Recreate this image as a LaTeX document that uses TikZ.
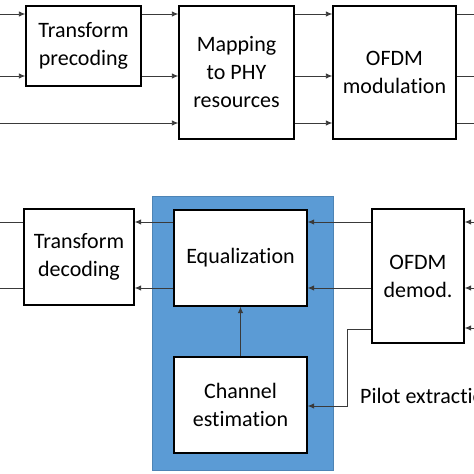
\documentclass[tikz,border=0pt]{standalone}
\usepackage{fontspec}
\setmainfont[Ligatures=CommonOff]{Carlito}
\usetikzlibrary{arrows.meta}
\definecolor{lineg}{HTML}{3A3A3A}
\definecolor{panelblue}{HTML}{5B9BD5}
\tikzset{
  txt/.style={font=\fontsize{22}{28}\selectfont},
  blk/.style={draw=black, line width=1.4pt, fill=white, align=center, inner sep=0pt, txt},
  conn/.style={draw=lineg, line width=0.9pt},
  arr/.style={conn, -{Latex[length=6.5pt,width=5.5pt]}},
}
\begin{document}
\begin{tikzpicture}[x=1pt,y=-1pt]
\useasboundingbox (0,0) rectangle (474,474);
\clip (0,0) rectangle (474,474);
\fill[white] (0,0) rectangle (474,474);
% blue panel
\node[draw=panelblue!85!black, fill=panelblue, line width=0.6pt, minimum width=181pt, minimum height=274pt, inner sep=0pt] (panel) at (242.5,333) {};
% top row
\node[blk, minimum width=115pt, minimum height=80pt] (tp) at (83.5,46) {Transform\\precoding};
\node[blk, minimum width=115pt, minimum height=133pt] (map) at (236.5,72.5) {Mapping\\to PHY\\resources};
\node[blk, minimum width=123pt, minimum height=133pt] (ofdm) at (394.5,72.5) {OFDM\\modulation};
% bottom row
\node[blk, minimum width=110pt, minimum height=96pt] (td) at (79,257) {Transform\\decoding};
\node[blk, minimum width=133pt, minimum height=96pt] (eq) at (240.5,258) {Equalization};
\node[blk, minimum width=92pt, minimum height=134pt] (od) at (418,276) {OFDM\\demod.};
\node[blk, minimum width=133pt, minimum height=96pt] (ce) at (240.5,405) {Channel\\estimation};
\node[anchor=base west, inner sep=0pt, txt] (pl) at (360,403) {Pilot extraction};
% free ends
\coordinate (l1) at (0,14); \coordinate (l2) at (0,76); \coordinate (l3) at (0,123);
\coordinate (r1) at (474,14); \coordinate (r2) at (474,76); \coordinate (r3) at (474,123);
\coordinate (bl1) at (0,222); \coordinate (bl2) at (0,288);
\coordinate (br1) at (474,222); \coordinate (br2) at (474,288); \coordinate (br3) at (474,328);
\coordinate (pk) at (347,329); \coordinate (pk2) at (347,406);
% top connectors
\draw[arr] (l1) -- (l1 -| tp.west);
\draw[arr] (l2) -- (l2 -| tp.west);
\draw[arr] (l3) -- (l3 -| map.west);
\draw[arr] (l1 -| tp.east) -- (l1 -| map.west);
\draw[arr] (l2 -| tp.east) -- (l2 -| map.west);
\draw[arr] (l1 -| map.east) -- (l1 -| ofdm.west);
\draw[arr] (l2 -| map.east) -- (l2 -| ofdm.west);
\draw[arr] (l3 -| map.east) -- (l3 -| ofdm.west);
\draw[conn] (r1 -| ofdm.east) -- (r1);
\draw[conn] (r2 -| ofdm.east) -- (r2);
\draw[conn] (r3 -| ofdm.east) -- (r3);
% bottom connectors
\draw[arr] (br1) -- (br1 -| od.east);
\draw[arr] (br2) -- (br2 -| od.east);
\draw[arr] (br3) -- (br3 -| od.east);
\draw[arr] (br1 -| od.west) -- (br1 -| eq.east);
\draw[arr] (br2 -| od.west) -- (br2 -| eq.east);
\draw[arr] (bl1 -| eq.west) -- (bl1 -| td.east);
\draw[arr] (bl2 -| eq.west) -- (bl2 -| td.east);
\draw[conn] (bl1 -| td.west) -- (bl1);
\draw[conn] (bl2 -| td.west) -- (bl2);
\draw[arr] (ce.north) -- (eq.south);
\draw[arr] (pk -| od.west) -- (pk) -- (pk2) -- (pk2 -| ce.east);
\end{tikzpicture}
\end{document}
